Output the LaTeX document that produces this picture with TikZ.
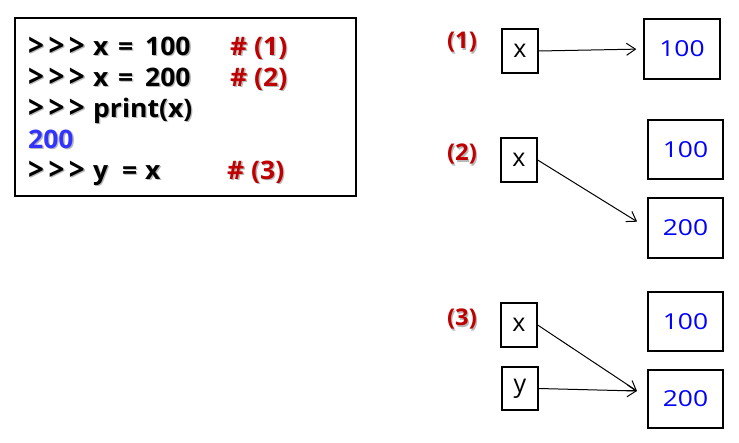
\documentclass[tikz,border=0pt]{standalone}
\usepackage{fontspec}
\setmainfont{Open Sans}
\newfontfamily\codefont[FakeStretch=1.04]{Open Sans}
\newfontfamily\numfont[FakeStretch=1.2]{Open Sans}
\usetikzlibrary{arrows.meta}
\definecolor{cred}{HTML}{C00000}
\definecolor{cblue}{HTML}{3333FF}
\definecolor{nblue}{HTML}{0000FF}
\definecolor{shadowc}{HTML}{B8B8B8}
\newcommand\tcol[1]{\color{#1}}
\newcommand\shd[1]{\leavevmode\rlap{\kern1.3pt\lower1.3pt\hbox{\renewcommand\tcol[1]{}\color{shadowc}#1}}#1}
\newcommand\bgt{\lower1pt\hbox{\scalebox{1.05}[1.22]{>}}}
\newcommand\gts{\bgt\kern4.5pt\bgt\kern4.5pt\bgt}
\tikzset{
  codetxt/.style={inner sep=0pt, anchor=base west, font=\codefont\fontsize{25.5}{30}\selectfont\bfseries},
  lbl/.style={inner sep=0pt, font=\codefont\fontsize{23}{26}\selectfont\bfseries},
  varbox/.style={draw, line width=1.3pt, minimum width=36pt, minimum height=44pt, inner sep=0pt, font=\fontsize{25}{27}\selectfont},
  valbox/.style={draw, line width=1.3pt, minimum width=75pt, minimum height=59pt, inner sep=0pt, text=nblue, font=\numfont\fontsize{22}{26}\selectfont},
  ref/.style={line width=1pt, -{Straight Barb[length=9pt,width=12pt]}}
}
\begin{document}
\begin{tikzpicture}[x=1pt,y=-1pt]
\useasboundingbox (0,0) rectangle (739,442);
% code panel
\draw[line width=2pt] (15,18) rectangle (356,196);
\node[codetxt] (l1) at (28,55) {\shd{\makebox[65pt][l]{\gts}\makebox[25pt][l]{x}\makebox[27pt][l]{=}\makebox[85pt][l]{100}{\tcol{cred}\# (1)}}};
\node[codetxt] (l2) at (28,86) {\shd{\makebox[65pt][l]{\gts}\makebox[25pt][l]{x}\makebox[27pt][l]{=}\makebox[85pt][l]{200}{\tcol{cred}\# (2)}}};
\node[codetxt] (l3) at (28,117) {\shd{\makebox[65pt][l]{\gts}print(x)}};
\node[codetxt] (l4) at (28,148) {\shd{{\tcol{cblue}200}}};
\node[codetxt] (l5) at (28,179) {\shd{\makebox[65pt][l]{\gts}\makebox[29pt][l]{y}\makebox[23pt][l]{=}\makebox[82pt][l]{x}{\tcol{cred}\# (3)}}};
% labels
\node[lbl] (s1) at (462,43) {\shd{{\tcol{cred}(1)}}};
\node[lbl] (s2) at (462,155) {\shd{{\tcol{cred}(2)}}};
\node[lbl] (s3) at (462,320) {\shd{{\tcol{cred}(3)}}};
% section 1
\node[varbox] (x1) at (520,51) {x};
\node[valbox, minimum width=76pt, minimum height=60pt] (v1) at (682,49) {100};
\draw[ref, shorten >=7pt] (x1.east) -- (v1.west);
% section 2
\node[varbox] (x2) at (519,160) {x};
\node[valbox] (v2a) at (685.5,149.5) {100};
\node[valbox, minimum height=60pt] (v2b) at (685.5,228) {200};
\draw[ref, shorten >=12pt] (x2.east) -- (v2b.west);
% section 3
\node[varbox] (x3) at (519,325) {x};
\node[varbox, minimum height=43pt] (y3) at (520,388.5) {y};
\node[valbox] (v3a) at (685.5,321.5) {100};
\node[valbox, minimum height=58pt] (v3b) at (685.5,399) {200};
\coordinate (tip3) at (637,391);
\draw[ref] (x3.east) -- (tip3);
\draw[ref] (y3.east) -- (tip3);
\end{tikzpicture}
\end{document}
